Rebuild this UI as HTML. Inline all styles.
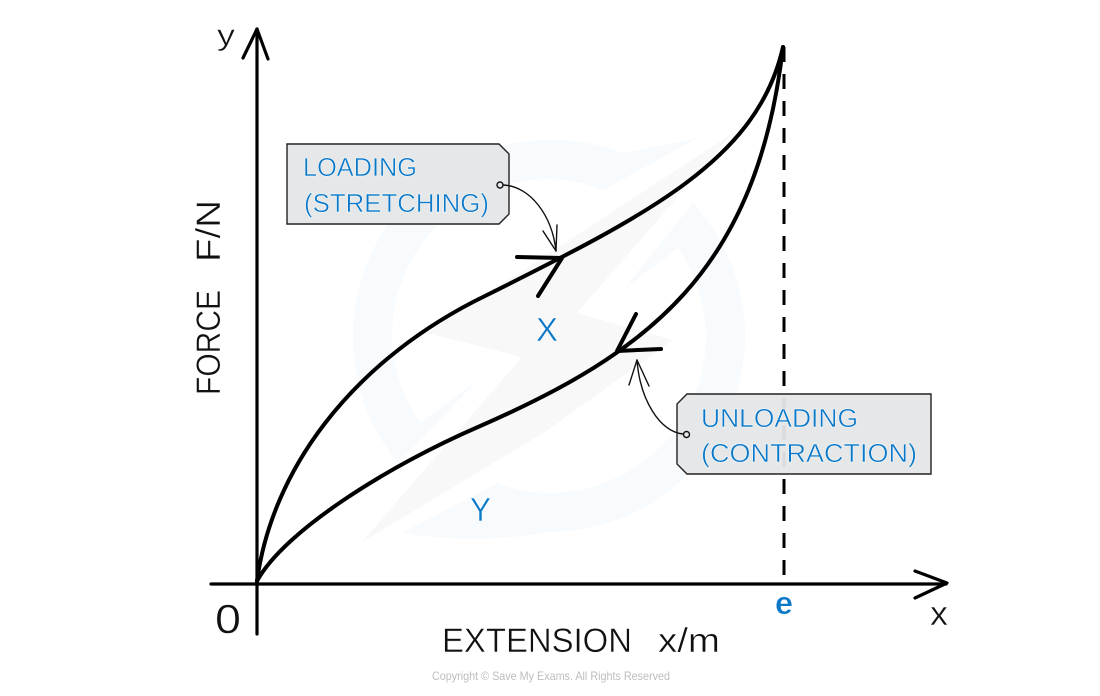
<!DOCTYPE html>
<html><head><meta charset="utf-8"><style>
html,body{margin:0;padding:0;background:#fff}
svg{display:block}
text{font-family:"Liberation Sans",sans-serif;stroke:#fff;stroke-width:.45}
.b{fill:#0a78c8}
.k{fill:#111}
</style></head><body>
<svg width="1100" height="696" viewBox="0 0 1100 696" xmlns="http://www.w3.org/2000/svg">
<!-- watermark -->
<path d="M398 463A196 196 0 0 1 353 336A196 196 0 0 1 549 140A196 196 0 0 1 623 153L698 138L603 190A157 157 0 0 0 549 179A157 157 0 0 0 392 336A157 157 0 0 0 420 423L478 380Z" fill="#f7fbfe"/>
<path d="M693 203A196 196 0 0 1 745 336A196 196 0 0 1 549 532Q475 545 402 533L497 483Q522 493 549 493A157 157 0 0 0 706 336A157 157 0 0 0 678 248L623 290Z" fill="#f7fbfe"/>
<polygon points="733,133 427,333 522,357 362,542 545,432 673,340 577,313" fill="#f8f8f8"/>
<!-- axes -->
<g fill="none" stroke="#000" stroke-linecap="round" stroke-linejoin="round">
<path d="M257 634V29" stroke-width="3.2"/>
<path d="M243 58L257 29L268 59" stroke-width="3.2"/>
<path d="M211 584H946" stroke-width="3.2"/>
<path d="M915 571L947 583L915 598" stroke-width="3.2"/>
<path d="M784 47V584" stroke-width="3" stroke-dasharray="15 12" stroke-linecap="butt"/>
<!-- curves -->
<path d="M257 581C272 470 350 366 473 302C645 216 757 162 783 47" stroke-width="4"/>
<path d="M257 581C285 530 390 465 478 427C650 352 757 270 783 47" stroke-width="4"/>
<path d="M517 257L562 258L538 296" stroke-width="4"/>
<path d="M636 314L617 351L661 349" stroke-width="4"/>
</g>
<!-- tags -->
<polygon points="287,144 499,144 509,154 509,214 499,224 287,224" fill="#e4e6e7" fill-opacity=".95" stroke="#222" stroke-width="1.4"/>
<polygon points="687,394 931,394 931,474 687,474 677,464 677,404" fill="#e5e6e7" fill-opacity=".95" stroke="#222" stroke-width="1.4"/>
<g fill="none" stroke="#111" stroke-width="1.4" stroke-linecap="round" stroke-linejoin="round">
<circle cx="500" cy="185" r="3"/>
<circle cx="686.5" cy="434.5" r="3"/>
<path d="M503 185C530 186 552 215 556 251"/>
<path d="M543 231L556 251L557 225"/>
<path d="M683 434C660 432 640 400 637 360"/>
<path d="M629 385L637 360L649 386"/>
</g>
<!-- labels -->
<text class="b" x="303" y="176" font-size="26" textLength="114" lengthAdjust="spacingAndGlyphs">LOADING</text>
<text class="b" x="304" y="212" font-size="26" textLength="185" lengthAdjust="spacingAndGlyphs">(STRETCHING)</text>
<text class="b" x="701" y="427" font-size="26" textLength="157" lengthAdjust="spacingAndGlyphs">UNLOADING</text>
<text class="b" x="701" y="462" font-size="26" textLength="216" lengthAdjust="spacingAndGlyphs">(CONTRACTION)</text>
<text class="b" x="536" y="341" font-size="33" textLength="22" lengthAdjust="spacingAndGlyphs">X</text>
<text class="b" x="470" y="521" font-size="33" textLength="21" lengthAdjust="spacingAndGlyphs">Y</text>
<text class="b" x="775" y="614" font-size="32" font-weight="bold" textLength="18" lengthAdjust="spacingAndGlyphs">e</text>
<text class="k" x="215" y="633" font-size="41" textLength="26" lengthAdjust="spacingAndGlyphs">0</text>
<text class="k" x="217" y="45" font-size="30" textLength="18" lengthAdjust="spacingAndGlyphs">y</text>
<text class="k" x="930" y="625" font-size="34" textLength="18" lengthAdjust="spacingAndGlyphs">x</text>
<text class="k" x="442" y="652" font-size="34" textLength="190" lengthAdjust="spacingAndGlyphs">EXTENSION</text>
<text class="k" x="658" y="652" font-size="34" textLength="62" lengthAdjust="spacingAndGlyphs">x/m</text>
<text class="k" transform="translate(220,395) rotate(-90)" font-size="34" textLength="105" lengthAdjust="spacingAndGlyphs">FORCE</text>
<text class="k" transform="translate(220,262) rotate(-90)" font-size="34" textLength="62" lengthAdjust="spacingAndGlyphs">F/N</text>
<text x="432" y="680" font-size="12" fill="#bdbdbd" style="stroke:none" textLength="238" lengthAdjust="spacingAndGlyphs">Copyright © Save My Exams. All Rights Reserved</text>
</svg>
</body></html>
